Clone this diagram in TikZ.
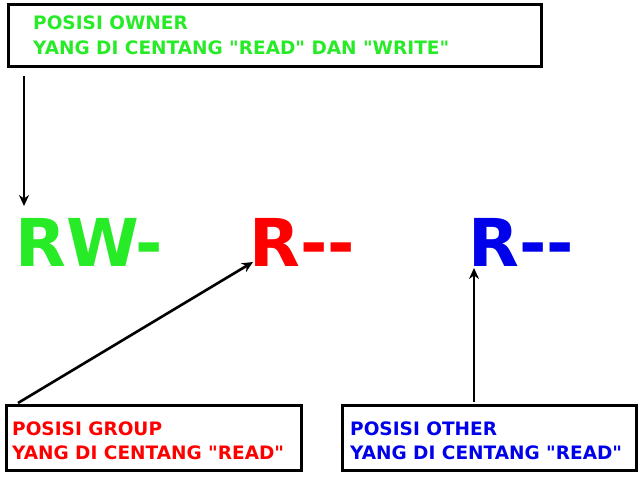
\documentclass[tikz,border=0pt]{standalone}
\usepackage{fontspec}
\setmainfont{DejaVu Sans}[Ligatures=TeXOff]
\usetikzlibrary{arrows.meta}
\definecolor{gr}{RGB}{40,235,40}
\definecolor{rd}{RGB}{255,0,0}
\definecolor{bl}{RGB}{0,0,235}
\begin{document}
\begin{tikzpicture}[x=1pt,y=-1pt,
  box/.style={draw=black,line width=3pt,fill=white},
  lbl/.style={anchor=base west,font=\bfseries\fontsize{18.5}{21}\selectfont,inner sep=0},
  big/.style={anchor=base west,font=\bfseries\fontsize{66}{70}\selectfont,inner sep=0},
  arr/.style={line width=2.6pt,-{Stealth[length=11pt,width=10pt]}}]
\useasboundingbox (0,0) rectangle (641,482);
\draw[box] (8,4) rectangle (541,66);
\node[lbl,text=gr] (t1) at (33,29) {POSISI OWNER};
\node[lbl,text=gr] (t2) at (33,54) {YANG DI CENTANG "READ" DAN "WRITE"};
\draw[box] (6,405) rectangle (301,470);
\node[lbl,text=rd] (g1) at (12,435) {POSISI GROUP};
\node[lbl,text=rd] (g2) at (12,459) {YANG DI CENTANG "READ"};
\draw[box] (342,405) rectangle (636,470);
\node[lbl,text=bl] (o1) at (350,435) {POSISI OTHER};
\node[lbl,text=bl] (o2) at (350,459) {YANG DI CENTANG "READ"};
\node[big,text=gr] (rw) at (15,266) {RW-};
\node[big,text=rd] (rg) at (249,266) {R--};
\node[big,text=bl] (ro) at (468,266) {R--};
\coordinate (a1) at (24,76); \coordinate (a1e) at (24,206);
\coordinate (a2) at (18,403); \coordinate (a2e) at (253,262);
\coordinate (a3) at (474,402); \coordinate (a3e) at (474,268);
\draw[arr] (a1) -- (a1e);
\draw[arr] (a2) -- (a2e);
\draw[arr] (a3) -- (a3e);
\end{tikzpicture}
\end{document}
